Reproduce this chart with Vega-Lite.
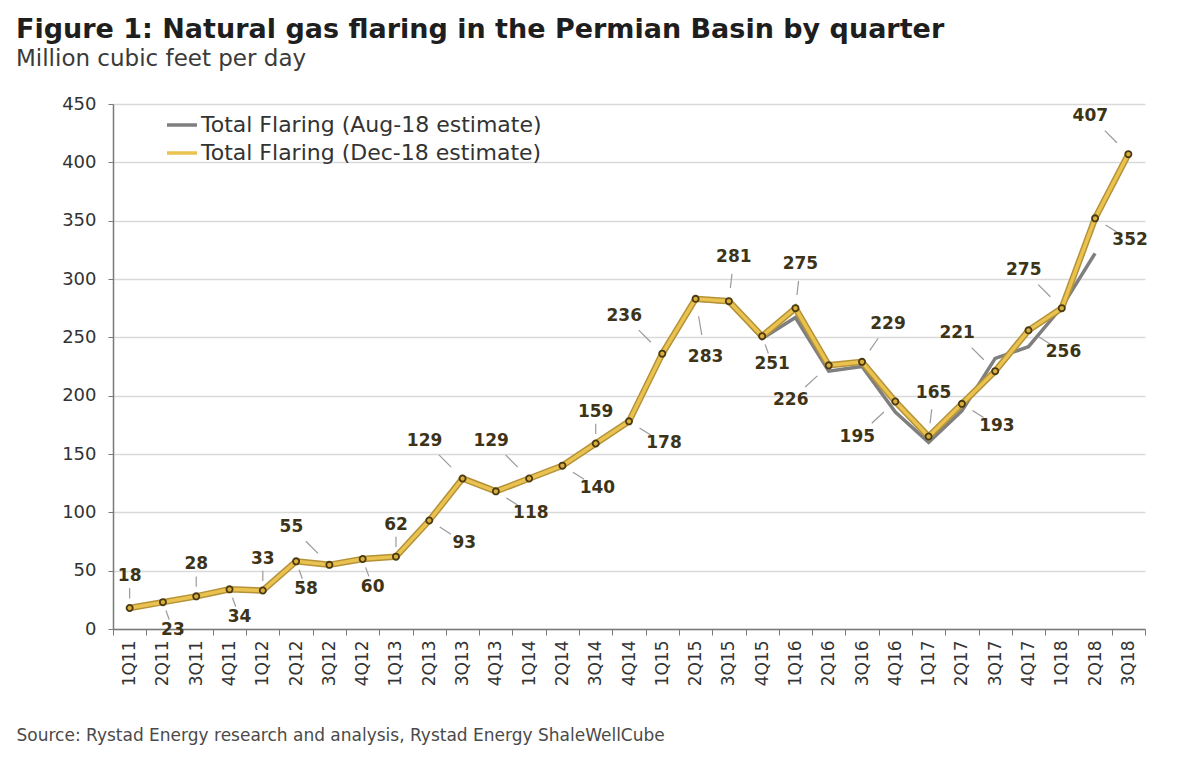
{
  "$schema": "https://vega.github.io/schema/vega-lite/v6.json",
  "width": 1032,
  "height": 525,
  "autosize": {"type": "none"},
  "padding": {"left": 113, "top": 104, "right": 55, "bottom": 129},
  "background": "white",
  "config": {"font": "DejaVu Sans", "view": {"stroke": null}},
  "title": {
    "text": "Figure 1: Natural gas flaring in the Permian Basin by quarter",
    "subtitle": "Million cubic feet per day",
    "anchor": "start",
    "frame": "group",
    "dx": -97,
    "offset": 23,
    "font": "DejaVu Sans",
    "fontSize": 27,
    "fontWeight": "bold",
    "color": "#1e1e1e",
    "subtitleFont": "DejaVu Sans",
    "subtitleFontSize": 23,
    "subtitleColor": "#3a3a3a",
    "subtitlePadding": 4
  },
  "data": {
    "values": [
      {"q": "1Q11", "dec": 18, "aug": 18, "pos": "u"},
      {"q": "2Q11", "dec": 23, "aug": 23, "pos": "d"},
      {"q": "3Q11", "dec": 28, "aug": 28, "pos": "u"},
      {"q": "4Q11", "dec": 34, "aug": 34, "pos": "d"},
      {"q": "1Q12", "dec": 33, "aug": 33, "pos": "u"},
      {"q": "2Q12", "dec": 58, "aug": 58, "pos": "d"},
      {"q": "3Q12", "dec": 55, "aug": 55, "pos": "ul"},
      {"q": "4Q12", "dec": 60, "aug": 60, "pos": "d"},
      {"q": "1Q13", "dec": 62, "aug": 62, "pos": "u"},
      {"q": "2Q13", "dec": 93, "aug": 93, "pos": "dr"},
      {"q": "3Q13", "dec": 129, "aug": 129, "pos": "ul"},
      {"q": "4Q13", "dec": 118, "aug": 118, "pos": "dr"},
      {"q": "1Q14", "dec": 129, "aug": 129, "pos": "ul"},
      {"q": "2Q14", "dec": 140, "aug": 140, "pos": "dr"},
      {"q": "3Q14", "dec": 159, "aug": 159, "pos": "u"},
      {"q": "4Q14", "dec": 178, "aug": 178, "pos": "dr"},
      {"q": "1Q15", "dec": 236, "aug": 234, "pos": "ul"},
      {"q": "2Q15", "dec": 283, "aug": 282, "pos": "dd"},
      {"q": "3Q15", "dec": 281, "aug": 280, "pos": "uu"},
      {"q": "4Q15", "dec": 251, "aug": 249, "pos": "d"},
      {"q": "1Q16", "dec": 275, "aug": 267, "pos": "uu"},
      {"q": "2Q16", "dec": 226, "aug": 221, "pos": "dl"},
      {"q": "3Q16", "dec": 229, "aug": 225, "pos": "ur"},
      {"q": "4Q16", "dec": 195, "aug": 186, "pos": "dl"},
      {"q": "1Q17", "dec": 165, "aug": 160, "pos": "uu"},
      {"q": "2Q17", "dec": 193, "aug": 187, "pos": "dr"},
      {"q": "3Q17", "dec": 221, "aug": 232, "pos": "ul"},
      {"q": "4Q17", "dec": 256, "aug": 242, "pos": "dr"},
      {"q": "1Q18", "dec": 275, "aug": 276, "pos": "ul"},
      {"q": "2Q18", "dec": 352, "aug": 322, "pos": "dr"},
      {"q": "3Q18", "dec": 407, "aug": null, "pos": "ul"}
    ]
  },
  "encoding": {
    "x": {
      "field": "q",
      "type": "ordinal",
      "sort": null,
      "scale": {"paddingInner": 0, "paddingOuter": 0},
      "axis": {
        "title": "Source: Rystad Energy research and analysis, Rystad Energy ShaleWellCube",
        "titleX": -97,
        "titleY": 115,
        "titleAlign": "left",
        "titleAnchor": null,
        "titleBaseline": "bottom",
        "titleFont": "DejaVu Sans",
        "titleFontSize": 17,
        "titleFontWeight": "normal",
        "titleColor": "#4a4a4a",
        "labelAngle": -90,
        "labelFontSize": 17,
        "labelColor": "#333333",
        "labelPadding": 5,
        "tickBand": "extent",
        "tickSize": 6,
        "tickColor": "#7a7a7a",
        "domainColor": "#7a7a7a",
        "domainWidth": 1.5,
        "grid": false
      }
    }
  },
  "layer": [
    {
      "transform": [
        {"fold": ["aug", "dec"], "as": ["series", "value"]},
        {"filter": "datum.series == 'aug'"}
      ],
      "mark": {"type": "line", "strokeWidth": 3.5},
      "encoding": {
        "y": {
          "field": "value",
          "type": "quantitative",
          "scale": {"domain": [0, 450]},
          "axis": {
            "title": null,
            "values": [0, 50, 100, 150, 200, 250, 300, 350, 400, 450],
            "labelFontSize": 18,
            "labelColor": "#333333",
            "labelPadding": 12,
            "gridColor": "#d9d9d9",
            "gridWidth": 1.5,
            "tickColor": "#7a7a7a",
            "tickSize": 5,
            "domainColor": "#7a7a7a",
            "domainWidth": 1.5
          }
        },
        "color": {
          "field": "series",
          "type": "nominal",
          "scale": {"domain": ["aug", "dec"], "range": ["#7f7f7f", "#e9c24f"]},
          "legend": {
            "title": null,
            "orient": "none",
            "legendX": 52,
            "legendY": 4,
            "symbolType": "stroke",
            "symbolSize": 900,
            "symbolStrokeWidth": 3.5,
            "labelFontSize": 22,
            "labelColor": "#333333",
            "labelOffset": 2,
            "labelLimit": 0,
            "rowPadding": 0,
            "labelExpr": "datum.label == 'aug' ? 'Total Flaring (Aug-18 estimate)' : 'Total Flaring (Dec-18 estimate)'"
          }
        }
      }
    },
    {
      "mark": {"type": "line", "strokeWidth": 6.5, "color": "#b59238"},
      "encoding": {"y": {"field": "dec", "type": "quantitative"}}
    },
    {
      "transform": [
        {"fold": ["aug", "dec"], "as": ["series", "value"]},
        {"filter": "datum.series == 'dec'"}
      ],
      "mark": {"type": "line", "strokeWidth": 3.5},
      "encoding": {
        "y": {"field": "value", "type": "quantitative"},
        "color": {"field": "series", "type": "nominal"}
      }
    },
    {
      "mark": {
        "type": "rule",
        "color": "#9a9a9a",
        "strokeWidth": 1.2,
        "xOffset": {"expr": "0.3*(datum.pos=='u'?0:datum.pos=='uu'?5:datum.pos=='d'?10:datum.pos=='dd'?10:datum.pos=='ul'?-38:datum.pos=='dr'?35:datum.pos=='dl'?-38:26)"},
        "x2Offset": {"expr": "0.62*(datum.pos=='u'?0:datum.pos=='uu'?5:datum.pos=='d'?10:datum.pos=='dd'?10:datum.pos=='ul'?-38:datum.pos=='dr'?35:datum.pos=='dl'?-38:26)"},
        "yOffset": {"expr": "0.3*(datum.pos=='u'?-32:datum.pos=='uu'?-44:datum.pos=='d'?28:datum.pos=='dd'?58:datum.pos=='ul'?-38:datum.pos=='dr'?22:datum.pos=='dl'?35:-38)"},
        "y2Offset": {"expr": "0.62*(datum.pos=='u'?-32:datum.pos=='uu'?-44:datum.pos=='d'?28:datum.pos=='dd'?58:datum.pos=='ul'?-38:datum.pos=='dr'?22:datum.pos=='dl'?35:-38)"}
      },
      "encoding": {
        "x": {"field": "q", "type": "ordinal", "sort": null, "bandPosition": 0.5},
        "x2": {"field": "q", "bandPosition": 0.5},
        "y": {"field": "dec", "type": "quantitative"},
        "y2": {"field": "dec"}
      }
    },
    {
      "mark": {"type": "point", "filled": true, "size": 38, "fill": "#d9ad3c", "stroke": "#4a3a12", "strokeWidth": 1.8, "opacity": 1},
      "encoding": {"y": {"field": "dec", "type": "quantitative"}}
    },
    {
      "mark": {
        "type": "text",
        "font": "DejaVu Sans",
        "fontSize": 17,
        "fontWeight": "bold",
        "color": "#3d3418",
        "align": "center",
        "baseline": "middle",
        "dx": {"expr": "datum.pos=='u'?0:datum.pos=='uu'?5:datum.pos=='d'?10:datum.pos=='dd'?10:datum.pos=='ul'?-38:datum.pos=='dr'?35:datum.pos=='dl'?-38:26"},
        "dy": {"expr": "datum.pos=='u'?-32:datum.pos=='uu'?-44:datum.pos=='d'?28:datum.pos=='dd'?58:datum.pos=='ul'?-38:datum.pos=='dr'?22:datum.pos=='dl'?35:-38"}
      },
      "encoding": {
        "y": {"field": "dec", "type": "quantitative"},
        "text": {"field": "dec", "type": "quantitative"}
      }
    }
  ]
}
